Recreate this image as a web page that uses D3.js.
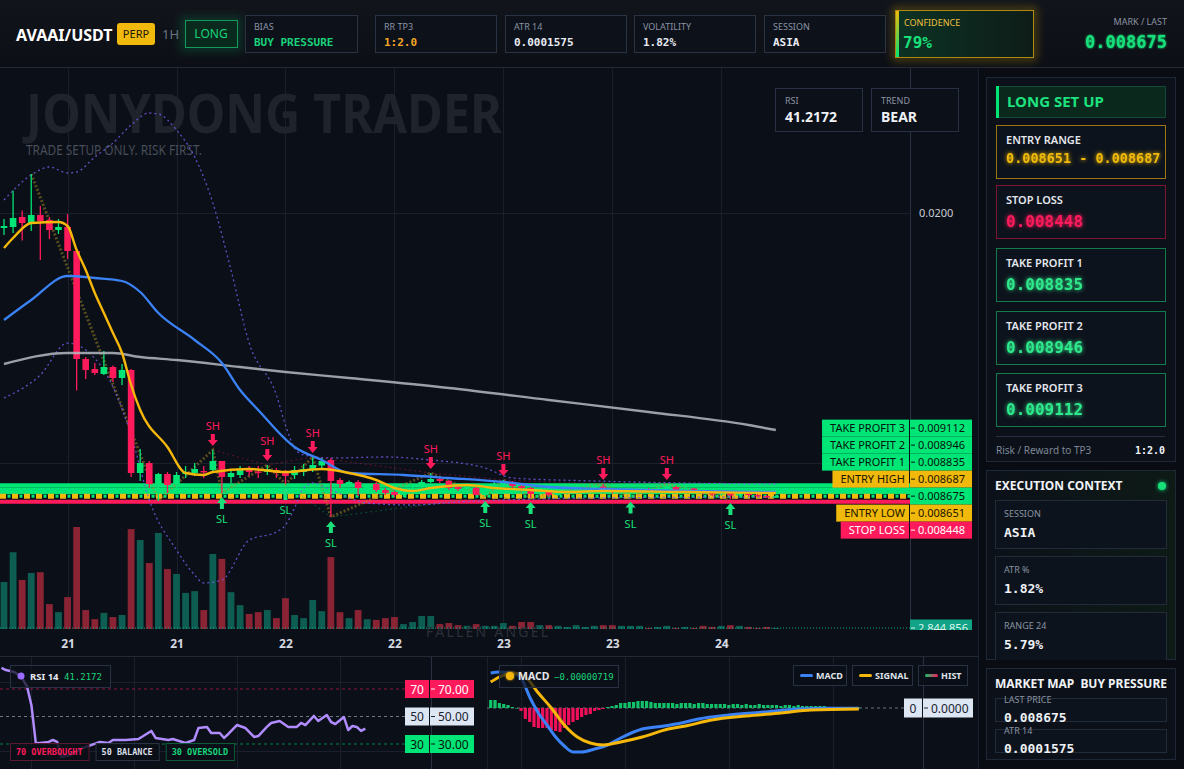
<!DOCTYPE html>
<html>
<head>
<meta charset="utf-8">
<title>AVAAI/USDT long setup</title>
<script src="https://cdn.jsdelivr.net/npm/d3@7"></script>
<style>
  html, body { margin: 0; padding: 0; background: #0b0f17; overflow: hidden; }
  svg { display: block; }
</style>
</head>
<body>
<svg id="chart" width="1184" height="769"></svg>
<script>
// ---------- data ----------
const tickIdx = [7, 19, 31, 43, 55, 67, 79];
const tickLabels = ['21', '21', '22', '22', '23', '23', '24'];
const dayIdx = [7, 31, 55, 79];
const priceTicks = [0.0100, 0.0200];

const opens = [0.0194,0.01944,0.01984,0.0196,0.01992,0.01972,0.01932,0.01944,0.01848,0.01416,
  0.01376,0.01356,0.01384,0.0134,0.01372,0.0096,0.0100,0.00916,0.00956,0.00916,
  0.00956,0.0096,0.00968,0.00972,0.01008,0.00944,0.00952,0.00972,0.00966,0.00964,
  0.00972,0.00964,0.00952,0.00964,0.00976,0.0099,0.01012,0.00932,0.00916,0.00924,
  0.009,0.00916,0.00892,0.00884,0.00872,0.00888,0.00904,0.00924,0.00936,0.00928,
  0.00904,0.00896,0.009,0.00872,0.00896,0.00916,0.00924,0.00908,0.009,0.00876,
  0.00884,0.00872,0.0088,0.00888,0.00896,0.009,0.00906,0.00896,0.00884,0.0088,
  0.00888,0.00896,0.0089,0.00898,0.00904,0.00892,0.00898,0.00888,0.0088,0.00874,
  0.0088,0.0087,0.00878,0.00872,0.00868,0.00864];
const highs = [0.01976,0.0209,0.0201,0.02156,0.02028,0.01984,0.01976,0.01996,0.01852,0.01424,
  0.014,0.01448,0.0139,0.01396,0.01376,0.01056,0.01008,0.0096,0.00964,0.00964,
  0.00988,0.01,0.00988,0.01052,0.01008,0.00976,0.00988,0.00988,0.00988,0.00992,
  0.0098,0.00972,0.00988,0.00996,0.01024,0.0102,0.0102,0.0094,0.0093,0.00932,
  0.00916,0.00924,0.009,0.0089,0.00896,0.00908,0.00932,0.0096,0.00944,0.00932,
  0.00908,0.0091,0.00904,0.009,0.00924,0.00932,0.00928,0.00912,0.00904,0.0089,
  0.00888,0.00888,0.00894,0.009,0.00908,0.00912,0.00916,0.009,0.00896,0.00892,
  0.009,0.009,0.00904,0.00916,0.00908,0.00904,0.009,0.00892,0.00886,0.00886,
  0.00884,0.00884,0.00882,0.00876,0.00872,0.0087];
const lows = [0.01912,0.0192,0.0189,0.01928,0.01812,0.01896,0.01916,0.01816,0.0129,0.01336,
  0.01352,0.01352,0.01324,0.01312,0.00944,0.00928,0.009,0.00848,0.0088,0.009,
  0.0094,0.00948,0.0094,0.0096,0.0088,0.0092,0.0094,0.00948,0.0094,0.00952,
  0.0094,0.00916,0.00936,0.00948,0.00964,0.00976,0.00784,0.009,0.0091,0.00868,
  0.00892,0.00884,0.00872,0.00864,0.00864,0.0088,0.009,0.0092,0.0092,0.00892,
  0.00888,0.0089,0.0087,0.00864,0.0089,0.0091,0.009,0.00892,0.0086,0.0087,
  0.00864,0.00866,0.00874,0.0088,0.0089,0.00894,0.0089,0.00878,0.00876,0.00862,
  0.00882,0.00884,0.00886,0.00892,0.00886,0.00886,0.00882,0.00874,0.00868,0.0087,
  0.00856,0.00866,0.00866,0.00862,0.0086,0.0086];
const closes = [0.01948,0.0198,0.0196,0.01992,0.01968,0.01932,0.01944,0.01848,0.01416,0.01372,
  0.0136,0.01384,0.0134,0.01372,0.0096,0.0100,0.00916,0.00956,0.00912,0.00952,
  0.00964,0.00976,0.00964,0.01008,0.00944,0.0096,0.00972,0.00964,0.00964,0.00976,
  0.0096,0.00948,0.00972,0.00976,0.00992,0.01008,0.00928,0.00916,0.00924,0.009,
  0.00908,0.00892,0.0088,0.00872,0.00888,0.009,0.00924,0.00936,0.00928,0.009,
  0.00896,0.00904,0.00872,0.00896,0.00916,0.00924,0.00908,0.009,0.00876,0.00884,
  0.00872,0.0088,0.00888,0.00896,0.009,0.00906,0.00896,0.00884,0.0089,0.00888,
  0.00896,0.0089,0.00898,0.00904,0.00892,0.00898,0.00888,0.0088,0.00874,0.0088,
  0.0087,0.00878,0.00872,0.00868,0.00864,0.008675];
const volumes = [134e6,219e6,140e6,160e6,162e6,71e6,48e6,91e6,291e6,54e6,
  28e6,46e6,34e6,40e6,285e6,254e6,188e6,274e6,171e6,157e6,
  103e6,108e6,54e6,214e6,200e6,105e6,68e6,43e6,48e6,54e6,
  31e6,88e6,40e6,31e6,83e6,51e6,205e6,48e6,31e6,54e6,
  28e6,26e6,31e6,34e6,14e6,20e6,37e6,37e6,14e6,17e6,
  11e6,9e6,14e6,9e6,9e6,17e6,9e6,20e6,20e6,11e6,
  11e6,9e6,6e6,11e6,6e6,9e6,11e6,11e6,9e6,9e6,
  9e6,3e6,6e6,9e6,3e6,6e6,3e6,9e6,6e6,9e6,
  11e6,9e6,6e6,3e6,6e6,2844856];

const emaFastIdx = [0,1,3,6,7,8,9,10,11,12,13,14,15,18,20,22,23,27,31,35,38,41,43,45,47,51,54,58,62,66,75,85];
const emaFastVal = [0.0186,0.0190,0.0196,0.01964,0.01948,0.01852,0.01772,0.0168,0.0160,0.0152,
  0.0144,0.01312,0.01212,0.01064,0.0096,0.00952,0.00964,0.00976,0.00964,0.00976,
  0.0096,0.00932,0.0090,0.00888,0.0090,0.00912,0.0090,0.00892,0.00884,0.00888,0.00884,0.0088];
const emaSlowIdx = [0,3,7,10,13,15,17,21,24,26,28,32,35,38,44,49,55,60,66,75,85];
const emaSlowVal = [0.01572,0.01652,0.01748,0.0174,0.01728,0.01684,0.0160,0.01492,0.0140,0.01292,
  0.01212,0.01064,0.01012,0.0096,0.00952,0.0094,0.00924,0.00904,0.00896,0.00888,0.00884];
const maLongIdx = [0,7,12,15,19,26,31,38,49,60,71,82,85];
const maLongVal = [0.01396,0.0144,0.0144,0.01424,0.01412,0.01384,0.01364,0.0134,0.0130,0.01252,0.01204,0.01152,0.01132];
const bbUpperIdx = [0,3,5,7,8,10,12,14,16,17,19,21,23,25,27,30,31,32,33,36,42,47,53,56,65,75,85];
const bbUpperVal = [0.02052,0.02152,0.02184,0.0216,0.02164,0.02224,0.0228,0.02352,0.024,0.02396,
  0.02332,0.02224,0.0204,0.01772,0.0148,0.01272,0.01152,0.0106,0.01032,0.0102,
  0.01024,0.01012,0.0098,0.0094,0.00928,0.0092,0.00916];
const bbLowerIdx = [0,4,7,9,12,14,16,19,21,22,24,27,30,31,32,33,34,36,40,45,50,55,65,85];
const bbLowerVal = [0.0126,0.01352,0.0148,0.01452,0.01304,0.01112,0.00852,0.00652,0.00552,0.0052,
  0.00532,0.00692,0.00724,0.00752,0.0082,0.009,0.0092,0.00892,0.0084,0.00832,
  0.00844,0.00852,0.0086,0.00864];

const shIdx = [23, 29, 34, 47, 55, 66, 73];
const slIdx = [24, 31, 36, 53, 58, 69, 80];
const zigIdx = [3, 17, 23, 24, 29, 31, 34, 36, 47, 53, 55, 58, 66, 69, 73, 80];
const zigType = ['H','L','H','L','H','L','H','L','H','L','H','L','H','L','H','L'];

const levelNames = ['TAKE PROFIT 3', 'TAKE PROFIT 2', 'TAKE PROFIT 1', 'ENTRY HIGH', '', 'ENTRY LOW', 'STOP LOSS'];
const levelKinds = ['tp', 'tp', 'tp', 'entry', 'last', 'entry', 'sl'];
const levelPrices = [0.009112, 0.008946, 0.008835, 0.008687, 0.008675, 0.008651, 0.008448];

const rsiIdx = [0,1,3,4,5,6,7,8,9,11,12,13,14,16,19,23,25,26,29,32,35,36,39,40,43,45,46,48,49,51,
  52,53,55,57,59,60,62,63,65,67,69,70,71,73,74,76,77,78,80,81,82,83,84,85];
const rsiVal = [85.3,83.8,82.4,80.2,77,71.5,58,31,30.7,31.5,32.9,31.5,20.5,22,27,31.5,30.7,32.9,32.9,33.6,
  39.5,34.4,32.9,33.6,30.7,32.9,41.6,42.4,38,38,34.4,37.3,43.8,41.6,35.1,35.8,42.4,45.3,46.7,42.4,
  42.4,45.3,43.8,50.4,46.7,51.1,46,44.5,49.6,40.2,43.1,42.4,39.5,41.2172];
const rsiLevels = [70, 50, 30];
const rsiLevelNames = ['OVERBOUGHT', 'BALANCE', 'OVERSOLD'];
const rsiGridTicks = [75, 25];

const macdIdx = [0,2,5,7,9,11,13,15,17,19,21,24,27,30,35,40,44,48,55,63,71,78,85];
const macdVal = [0.00105,0.00108,0.00105,0.0009,0.00033,-0.00015,-0.00051,-0.00087,-0.00114,-0.00132,
  -0.00132,-0.00123,-0.00111,-0.0009,-0.00063,-0.00054,-0.00045,-0.00033,-0.00021,-0.00012,
  -0.00003,-0.00001,-0.00000719];
const signalIdx = [0,2,5,8,11,14,17,20,23,26,30,35,41,45,51,59,67,74,85];
const signalVal = [0.00078,0.00093,0.00105,0.00093,0.00045,0,-0.00051,-0.00087,-0.00105,-0.00111,
  -0.00102,-0.00087,-0.00063,-0.00054,-0.00036,-0.00024,-0.00015,-0.00006,-0.00003];
const histVal = [0.00024,0.00024,0.00015,0.00012,0.00009,0.00003,0,-0.00009,-0.00033,-0.00042,
  -0.00057,-0.0006,-0.0006,-0.0006,-0.00066,-0.00069,-0.00072,-0.0006,-0.00051,-0.00042,
  -0.00036,-0.00027,-0.00021,-0.00018,-0.00009,-0.00006,-0.00003,0.00003,0.00006,0.00009,
  0.00015,0.00015,0.00018,0.00018,0.00021,0.00021,0.00021,0.00018,0.00015,0.00015,
  0.00015,0.00015,0.00015,0.00012,0.00015,0.00015,0.00015,0.00012,0.00015,0.00015,
  0.00012,0.00012,0.00012,0.00012,0.00012,0.00009,0.00012,0.00012,0.00009,0.00012,
  0.00009,0.00009,0.00012,0.00009,0.00009,0.00009,0.00009,0.00006,0.00009,0.00009,
  0.00006,0.00009,0.00006,0.00006,0.00006,0.00006,0.00006,0.00006,0.00003,0.00003,
  0.00003,0.00003,0.00003,0.00003,0.000015,0.00001];

const topCards = [
  { label: 'BIAS', value: 'BUY PRESSURE', color: '#19d37a', x: 245, w: 112 },
  { label: 'RR TP3', value: '1:2.0', color: '#f5a623', x: 375, w: 121 },
  { label: 'ATR 14', value: '0.0001575', color: '#e8ecf2', x: 505, w: 121 },
  { label: 'VOLATILITY', value: '1.82%', color: '#e8ecf2', x: 634, w: 121 },
  { label: 'SESSION', value: 'ASIA', color: '#e8ecf2', x: 764, w: 121 }
];
const contextLabels = ['SESSION', 'ATR %', 'RANGE 24'];
const contextValues = ['ASIA', '1.82%', '5.79%'];
const mapLabels = ['LAST PRICE', 'ATR 14'];
const mapValues = ['0.008675', '0.0001575'];

// ---------- setup ----------
const sans = '"Noto Sans", "DejaVu Sans", sans-serif';
const mono = '"DejaVu Sans Mono", monospace';
const green = '#00e676', red = '#ff1a5c', gold = '#f0b90b';
const fmt6 = d3.format('.6f');

const svg = d3.select('#chart');
const defs = svg.append('defs');

function addGlow(id, sd) {
  const f = defs.append('filter').attr('id', id)
    .attr('x', '-30%').attr('y', '-60%').attr('width', '160%').attr('height', '220%');
  f.append('feGaussianBlur').attr('stdDeviation', sd).attr('result', 'b');
  const m = f.append('feMerge');
  m.append('feMergeNode').attr('in', 'b');
  m.append('feMergeNode').attr('in', 'SourceGraphic');
}
addGlow('glow', 2);
addGlow('glowSoft', 1.2);
defs.append('filter').attr('id', 'blur').attr('x', '-20%').attr('y', '-40%').attr('width', '140%').attr('height', '180%')
  .append('feGaussianBlur').attr('stdDeviation', 4);

function lin(id, stops, vertical) {
  const g = defs.append('linearGradient').attr('id', id)
    .attr('x1', 0).attr('y1', 0).attr('x2', vertical ? 0 : 1).attr('y2', vertical ? 1 : 0);
  stops.forEach((s, k) => g.append('stop').attr('offset', k / (stops.length - 1)).attr('stop-color', s));
}
lin('topGrad', ['#11141b', '#0c0f15'], true);
lin('confGrad', ['#0c3324', '#0e1c18'], false);
lin('confBar', [gold, green], true);
lin('histGrad', ['#12c26a', red], false);
lin('ctxGrad', ['#0c1119', '#0d1a16'], false);

defs.append('clipPath').attr('id', 'clipPlot').append('rect').attr('x', 0).attr('y', 68).attr('width', 910).attr('height', 562);
defs.append('clipPath').attr('id', 'clipMain').append('rect').attr('x', 0).attr('y', 68).attr('width', 978).attr('height', 562);
defs.append('clipPath').attr('id', 'clipRsi').append('rect').attr('x', 0).attr('y', 657).attr('width', 431).attr('height', 112);
defs.append('clipPath').attr('id', 'clipMacd').append('rect').attr('x', 487).attr('y', 657).attr('width', 436).attr('height', 112);
defs.append('clipPath').attr('id', 'clipCtx').append('rect').attr('x', 986).attr('y', 470).attr('width', 190).attr('height', 190);

function txt(g, x, y, s, o = {}) {
  return g.append('text').attr('x', x).attr('y', y).text(s)
    .attr('font-size', o.size || 11)
    .attr('font-weight', o.weight || 400)
    .style('font-family', o.mono ? mono : sans)
    .attr('fill', o.fill || '#e6e9ef')
    .attr('text-anchor', o.anchor || 'start');
}
function box(g, x, y, w, h, fill, stroke) {
  return g.append('rect').attr('x', x + 0.5).attr('y', y + 0.5).attr('width', w).attr('height', h)
    .attr('fill', fill).attr('stroke', stroke || 'none');
}

// background
svg.append('rect').attr('width', 1184).attr('height', 769).attr('fill', '#0b0f17');
svg.append('rect').attr('x', 978).attr('y', 68).attr('width', 206).attr('height', 701).attr('fill', '#090c12');

// ---------- top bar ----------
const topBar = svg.append('g');
topBar.append('rect').attr('width', 1184).attr('height', 67).attr('fill', 'url(#topGrad)');
topBar.append('line').attr('x1', 0).attr('x2', 1184).attr('y1', 67.5).attr('y2', 67.5).attr('stroke', '#222a36');
txt(topBar, 16, 41, 'AVAAI/USDT', { size: 16, weight: 700, fill: '#ffffff' });
topBar.append('rect').attr('x', 117).attr('y', 23).attr('width', 38).attr('height', 22).attr('rx', 3).attr('fill', gold);
txt(topBar, 136, 38, 'PERP', { size: 11, fill: '#1a1608', anchor: 'middle' });
txt(topBar, 162, 39, '1H', { size: 13, fill: '#6b7383' });
topBar.append('rect').attr('x', 180).attr('y', 16).attr('width', 62).attr('height', 36)
  .attr('fill', 'rgba(0,200,110,0.18)').attr('filter', 'url(#blur)');
box(topBar, 185, 20, 52, 27, '#0a2a1e', '#139a5d');
txt(topBar, 211, 38, 'LONG', { size: 12, fill: '#19d37a', anchor: 'middle' });

topCards.forEach(c => {
  box(topBar, c.x, 15, c.w, 37, '#0c111a', '#2a3342');
  txt(topBar, c.x + 9, 30, c.label, { size: 9, fill: '#8b94a5' });
  txt(topBar, c.x + 9, 46, c.value, { size: 11, weight: 700, mono: true, fill: c.color });
});

topBar.append('rect').attr('x', 895).attr('y', 10).attr('width', 139).attr('height', 48)
  .attr('fill', 'none').attr('stroke', 'rgba(240,185,11,0.45)').attr('stroke-width', 4).attr('filter', 'url(#blur)');
box(topBar, 895, 10, 138, 47, 'url(#confGrad)', '#b08a10');
topBar.append('rect').attr('x', 896).attr('y', 11).attr('width', 3).attr('height', 46).attr('fill', 'url(#confBar)');
txt(topBar, 904, 26, 'CONFIDENCE', { size: 9, fill: '#f0c040' });
txt(topBar, 903, 48, '79%', { size: 16, weight: 700, mono: true, fill: '#19e07a' });
txt(topBar, 1167, 25, 'MARK / LAST', { size: 9, fill: '#8b94a5', anchor: 'end' });
txt(topBar, 1167, 48, fmt6(closes[closes.length - 1]), { size: 17, weight: 700, mono: true, fill: '#19e07a', anchor: 'end' })
  .attr('filter', 'url(#glowSoft)');

// ---------- main price pane ----------
const n = opens.length;
const x = d3.scaleLinear().domain([0, n - 1]).range([4, 4 + (n - 1) * 9.08]);
const y = d3.scaleLinear().domain([0.0100, 0.0200]).range([463, 213]);
const yVol = d3.scaleLinear().domain([0, d3.max(volumes)]).range([629, 527]);

const main = svg.append('g');
main.append('g').selectAll('line').data(tickIdx).join('line')
  .attr('x1', d => Math.round(x(d)) + 0.5).attr('x2', d => Math.round(x(d)) + 0.5)
  .attr('y1', 68).attr('y2', 630).attr('stroke', '#1a202b');
main.append('g').selectAll('line').data(priceTicks).join('line')
  .attr('x1', 0).attr('x2', 910)
  .attr('y1', d => Math.round(y(d)) + 0.5).attr('y2', d => Math.round(y(d)) + 0.5).attr('stroke', '#1a202b');

txt(main, 26, 133, 'JONYDONG TRADER', { size: 53, weight: 700, fill: '#1f232c' })
  .attr('textLength', 476).attr('lengthAdjust', 'spacingAndGlyphs');
txt(main, 26, 155, 'TRADE SETUP ONLY. RISK FIRST.', { size: 14, fill: '#474d59' })
  .attr('textLength', 176).attr('lengthAdjust', 'spacingAndGlyphs');

const plot = main.append('g').attr('clip-path', 'url(#clipPlot)');
const candles = d3.range(n).map(i => ({ i, o: opens[i], h: highs[i], l: lows[i], c: closes[i], v: volumes[i] }));

// volume
plot.append('g').selectAll('rect').data(candles).join('rect')
  .attr('x', d => x(d.i) - 3.4).attr('width', 6.8)
  .attr('y', d => yVol(d.v)).attr('height', d => Math.max(0.6, 629 - yVol(d.v)))
  .attr('fill', d => d.c >= d.o ? '#0e5d52' : '#8a2435');
plot.append('line').attr('x1', 0).attr('x2', 910)
  .attr('y1', yVol(volumes[n - 1])).attr('y2', yVol(volumes[n - 1]))
  .attr('stroke', '#13a88a').attr('stroke-dasharray', '1,2');

// trade levels
const levels = levelPrices.map((p, k) => ({ p, name: levelNames[k], kind: levelKinds[k], y: y(p) }));
const levelStyle = {
  tp: { stroke: green, width: 4, dash: null, bg: green, fg: '#07130d' },
  entry: { stroke: gold, width: 4, dash: '6,6', bg: gold, fg: '#1b1400' },
  last: { stroke: green, width: 3, dash: '0,7.5,3,1.5', bg: green, fg: '#07130d' },
  sl: { stroke: red, width: 4, dash: null, bg: red, fg: '#ffffff' }
};
['tp', 'entry', 'last', 'sl'].forEach(kind => {
  levels.filter(d => d.kind === kind).forEach(d => {
    const s = levelStyle[kind];
    plot.append('line').attr('x1', 0).attr('x2', 910).attr('y1', d.y).attr('y2', d.y)
      .attr('stroke', s.stroke).attr('stroke-width', s.width).attr('stroke-dasharray', s.dash);
  });
});

// swing structure
const zig = zigIdx.map((k, j) => [k, zigType[j] === 'H' ? highs[k] : lows[k]]);
plot.append('path').datum(zig)
  .attr('d', d3.line().x(d => x(d[0])).y(d => y(d[1])))
  .attr('fill', 'none').attr('stroke', 'rgba(165,140,40,0.5)').attr('stroke-width', 3).attr('stroke-dasharray', '2,2');
plot.append('path').datum(shIdx.map(k => [k, highs[k]]))
  .attr('d', d3.line().x(d => x(d[0])).y(d => y(d[1])))
  .attr('fill', 'none').attr('stroke', 'rgba(255,26,92,0.3)').attr('stroke-width', 1.2).attr('stroke-dasharray', '2,3');
plot.append('path').datum(slIdx.map(k => [k, lows[k]]))
  .attr('d', d3.line().x(d => x(d[0])).y(d => y(d[1])))
  .attr('fill', 'none').attr('stroke', 'rgba(0,200,120,0.3)').attr('stroke-width', 1.2).attr('stroke-dasharray', '2,3');

// bands
const curveLine = d3.line().x(d => x(d[0])).y(d => y(d[1])).curve(d3.curveMonotoneX);
[[bbUpperIdx, bbUpperVal], [bbLowerIdx, bbLowerVal]].forEach(([ix, vs]) => {
  plot.append('path').datum(d3.zip(ix, vs)).attr('d', curveLine)
    .attr('fill', 'none').attr('stroke', 'rgba(118,88,230,0.85)').attr('stroke-width', 1.3).attr('stroke-dasharray', '2,3');
});

// candles
const cg = plot.append('g');
cg.selectAll('line').data(candles).join('line')
  .attr('x1', d => x(d.i)).attr('x2', d => x(d.i))
  .attr('y1', d => y(d.h)).attr('y2', d => y(d.l))
  .attr('stroke', d => d.c >= d.o ? green : red).attr('stroke-width', 1.3);
cg.selectAll('rect').data(candles).join('rect')
  .attr('x', d => x(d.i) - 3.3).attr('width', 6.6)
  .attr('y', d => y(Math.max(d.o, d.c)))
  .attr('height', d => Math.max(1.4, Math.abs(y(d.o) - y(d.c))))
  .attr('fill', d => d.c >= d.o ? green : red);

// moving averages
plot.append('path').datum(d3.zip(maLongIdx, maLongVal)).attr('d', curveLine)
  .attr('fill', 'none').attr('stroke', '#b4b8c2').attr('stroke-width', 2.4).attr('opacity', 0.85);
plot.append('path').datum(d3.zip(emaSlowIdx, emaSlowVal)).attr('d', curveLine)
  .attr('fill', 'none').attr('stroke', '#3b82f6').attr('stroke-width', 2.3);
plot.append('path').datum(d3.zip(emaFastIdx, emaFastVal)).attr('d', curveLine)
  .attr('fill', 'none').attr('stroke', '#f5b70a').attr('stroke-width', 2.4);

// swing markers
const downArrow = 'M0,0 L-5,-6 L-2,-6 L-2,-12 L2,-12 L2,-6 L5,-6 Z';
const upArrow = 'M0,0 L-5,6 L-2,6 L-2,12 L2,12 L2,6 L5,6 Z';
shIdx.forEach(k => {
  const tip = y(highs[k]) - 4;
  plot.append('path').attr('d', downArrow).attr('transform', `translate(${x(k)},${tip})`).attr('fill', red);
  txt(plot, x(k), tip - 16, 'SH', { size: 11, fill: red, anchor: 'middle' });
});
slIdx.forEach(k => {
  const tip = y(lows[k]) + 4;
  plot.append('path').attr('d', upArrow).attr('transform', `translate(${x(k)},${tip})`).attr('fill', '#19e07a');
  txt(plot, x(k), tip + 26, 'SL', { size: 11, fill: '#19e07a', anchor: 'middle' });
});

// level labels stacked around the last price
const anchor = levels.findIndex(d => d.kind === 'last');
const lh = 17;
levels[anchor].ly = levels[anchor].y;
for (let k = anchor - 1; k >= 0; k--) levels[k].ly = Math.min(levels[k].y, levels[k + 1].ly - lh);
for (let k = anchor + 1; k < levels.length; k++) levels[k].ly = Math.max(levels[k].y, levels[k - 1].ly + lh);

// price axis (ticks hidden where a level label sits, as the chart does)
main.append('line').attr('x1', 910.5).attr('x2', 910.5).attr('y1', 68).attr('y2', 630).attr('stroke', '#2a3140');
const pAxis = main.append('g').attr('transform', 'translate(910,0)')
  .call(d3.axisRight(y).tickValues(priceTicks.filter(t => !levels.some(l => Math.abs(y(t) - l.ly) < 12)))
    .tickFormat(d3.format('.4f')).tickSize(0).tickPadding(9));
pAxis.select('.domain').remove();
pAxis.selectAll('text').attr('font-size', 11).attr('fill', '#c8cdd6').style('font-family', sans);

// volume value label
const volLab = main.append('g').attr('clip-path', 'url(#clipMain)');
const vy = yVol(volumes[n - 1]);
volLab.append('rect').attr('x', 910).attr('y', vy - 8.5).attr('width', 62).attr('height', 17).attr('fill', '#12a386');
volLab.append('line').attr('x1', 911).attr('x2', 915).attr('y1', vy).attr('y2', vy).attr('stroke', '#dff7ef');
txt(volLab, 918, vy + 4, d3.format(',')(volumes[n - 1]), { size: 11, fill: '#dff7ef' });

const labG = main.append('g');
levels.forEach(d => {
  const s = levelStyle[d.kind];
  if (d.name) {
    const g = labG.append('g');
    const r = g.append('rect').attr('y', d.ly - 8.5).attr('height', 17).attr('fill', s.bg);
    const t = txt(g, 905, d.ly + 4, d.name, { size: 11, fill: s.fg, anchor: 'end' });
    const w = t.node().getComputedTextLength();
    r.attr('x', 905 - w - 8).attr('width', w + 12);
  }
  labG.append('rect').attr('x', 910).attr('y', d.ly - 8.5).attr('width', 62).attr('height', 17).attr('fill', s.bg);
  labG.append('line').attr('x1', 911).attr('x2', 915).attr('y1', d.ly).attr('y2', d.ly).attr('stroke', s.fg);
  txt(labG, 918, d.ly + 4, fmt6(d.p), { size: 11, fill: s.fg });
});

// RSI / TREND cards
[['RSI', d3.format('.4f')(rsiVal[rsiVal.length - 1]), 775], ['TREND', 'BEAR', 871]].forEach(([l, v, bx]) => {
  box(main, bx, 88, 87, 43, '#0b1019', '#283141');
  txt(main, bx + 10, 104, l, { size: 9, fill: '#8b94a5' });
  txt(main, bx + 10, 122, v, { size: 14, weight: 700, fill: '#eef1f5' });
});

// time axis
txt(main, 426, 637, 'FALLEN ANGEL', { size: 14, fill: '#2b303a' })
  .attr('textLength', 122).attr('lengthAdjust', 'spacing');
const tAxis = main.append('g').attr('transform', 'translate(0,639)')
  .call(d3.axisBottom(x).tickValues(tickIdx).tickFormat((d, k) => tickLabels[k]).tickSize(0).tickPadding(0));
tAxis.select('.domain').remove();
tAxis.selectAll('text').attr('font-size', 12).attr('font-weight', 700).attr('fill', '#d6dae2').style('font-family', sans);
main.append('line').attr('x1', 0).attr('x2', 978).attr('y1', 656.5).attr('y2', 656.5).attr('stroke', '#232a36');
main.append('line').attr('x1', 978.5).attr('x2', 978.5).attr('y1', 68).attr('y2', 769).attr('stroke', '#1a202b');

// ---------- RSI pane ----------
const xr = d3.scaleLinear().domain([0, n - 1]).range([1.5, 365.3]);
const yr = d3.scaleLinear().domain([30, 70]).range([744, 689]);
const rsiG = svg.append('g');
rsiG.append('g').selectAll('line').data(dayIdx).join('line')
  .attr('x1', d => Math.round(xr(d)) + 0.5).attr('x2', d => Math.round(xr(d)) + 0.5)
  .attr('y1', 657).attr('y2', 769).attr('stroke', '#1a202b');
rsiG.append('g').selectAll('line').data(rsiGridTicks).join('line')
  .attr('x1', 0).attr('x2', 431).attr('y1', d => Math.round(yr(d)) + 0.5).attr('y2', d => Math.round(yr(d)) + 0.5)
  .attr('stroke', '#1a202b');
rsiG.append('line').attr('x1', 431.5).attr('x2', 431.5).attr('y1', 657).attr('y2', 769).attr('stroke', '#2a3140');
const rsiColors = [red, '#c9d2de', green];
const rsiBoxBg = [red, '#dde6f3', green];
const rsiBoxFg = ['#ffffff', '#1b2230', '#07130d'];
const rsiClip = rsiG.append('g').attr('clip-path', 'url(#clipRsi)');
rsiLevels.forEach((v, k) => {
  rsiClip.append('line').attr('x1', 0).attr('x2', 431).attr('y1', yr(v)).attr('y2', yr(v))
    .attr('stroke', rsiColors[k]).attr('stroke-opacity', 0.55).attr('stroke-dasharray', '3,3');
});
rsiClip.append('path').datum(d3.zip(rsiIdx, rsiVal))
  .attr('d', d3.line().x(d => xr(d[0])).y(d => yr(d[1])))
  .attr('fill', 'none').attr('stroke', '#b08cff').attr('stroke-width', 2.5).attr('stroke-linejoin', 'round');
box(rsiG, 10, 665, 100, 22, 'rgba(11,15,23,0.72)', '#283141');
rsiG.append('circle').attr('cx', 21).attr('cy', 676).attr('r', 3.5).attr('fill', '#9b6bff');
txt(rsiG, 30, 680, 'RSI 14', { size: 9.5, weight: 700, fill: '#e6e9ef' });
txt(rsiG, 64, 680, d3.format('.4f')(rsiVal[rsiVal.length - 1]), { size: 9, mono: true, fill: '#19d37a' });
let chipX = 10;
rsiLevels.forEach((v, k) => {
  const g = rsiG.append('g');
  const r = box(g, chipX, 743, 10, 17, 'rgba(11,15,23,0.85)', ['#5c1830', '#2a3342', '#0f5a38'][k]);
  const t = txt(g, chipX + 6, 755, `${v} ${rsiLevelNames[k]}`, { size: 8.5, weight: 700, mono: true, fill: [red, '#d8dde6', '#19d37a'][k] });
  const w = t.node().getComputedTextLength();
  r.attr('width', w + 12);
  chipX += w + 19;
});
rsiLevels.forEach((v, k) => {
  const cy = yr(v);
  rsiG.append('rect').attr('x', 405).attr('y', cy - 9).attr('width', 24).attr('height', 18).attr('fill', rsiBoxBg[k]);
  txt(rsiG, 417, cy + 4.5, String(v), { size: 12, fill: rsiBoxFg[k], anchor: 'middle' });
  rsiG.append('rect').attr('x', 430).attr('y', cy - 9).attr('width', 44).attr('height', 18).attr('fill', rsiBoxBg[k]);
  rsiG.append('line').attr('x1', 431).attr('x2', 435).attr('y1', cy).attr('y2', cy).attr('stroke', rsiBoxFg[k]);
  txt(rsiG, 438, cy + 4.5, d3.format('.2f')(v), { size: 12, fill: rsiBoxFg[k] });
});

// ---------- MACD pane ----------
const xm = d3.scaleLinear().domain([0, n - 1]).range([490.7, 858.8]);
const ym = d3.scaleLinear().domain([0, -0.00135]).range([708, 753]);
const macdG = svg.append('g');
macdG.append('g').selectAll('line').data(dayIdx).join('line')
  .attr('x1', d => Math.round(xm(d)) + 0.5).attr('x2', d => Math.round(xm(d)) + 0.5)
  .attr('y1', 657).attr('y2', 769).attr('stroke', '#1a202b');
macdG.append('line').attr('x1', 487.5).attr('x2', 487.5).attr('y1', 657).attr('y2', 769).attr('stroke', '#1a202b');
macdG.append('line').attr('x1', 923.5).attr('x2', 923.5).attr('y1', 657).attr('y2', 769).attr('stroke', '#2a3140');
const macdClip = macdG.append('g').attr('clip-path', 'url(#clipMacd)');
macdClip.append('line').attr('x1', 487).attr('x2', 923).attr('y1', ym(0)).attr('y2', ym(0))
  .attr('stroke', '#6a7282').attr('stroke-dasharray', '3,3');
macdClip.append('g').selectAll('rect').data(histVal).join('rect')
  .attr('x', (d, i) => xm(i) - 1.6).attr('width', 3.2)
  .attr('y', d => Math.min(ym(d), ym(0)))
  .attr('height', d => Math.max(0.6, Math.abs(ym(d) - ym(0))))
  .attr('fill', d => d >= 0 ? '#12c26a' : '#f0105a');
const mLine = d3.line().x(d => xm(d[0])).y(d => ym(d[1])).curve(d3.curveMonotoneX);
macdClip.append('path').datum(d3.zip(macdIdx, macdVal)).attr('d', mLine)
  .attr('fill', 'none').attr('stroke', '#3b82f6').attr('stroke-width', 3);
macdClip.append('path').datum(d3.zip(signalIdx, signalVal)).attr('d', mLine)
  .attr('fill', 'none').attr('stroke', '#f5b70a').attr('stroke-width', 3);
box(macdG, 499, 665, 119, 22, 'rgba(11,15,23,0.72)', '#283141');
macdG.append('circle').attr('cx', 510).attr('cy', 676).attr('r', 4).attr('fill', '#f5b70a').attr('filter', 'url(#glowSoft)');
txt(macdG, 518, 680, 'MACD', { size: 10.5, weight: 700, fill: '#e6e9ef' });
txt(macdG, 554, 680, d3.format('.8f')(macdVal[macdVal.length - 1]), { size: 9, mono: true, fill: '#19d37a' });
[['MACD', 793, 53, '#3b82f6'], ['SIGNAL', 852, 60, '#f5b70a'], ['HIST', 918, 49, 'url(#histGrad)']].forEach(([l, bx, bw, c]) => {
  box(macdG, bx, 665, bw, 20, 'rgba(11,15,23,0.85)', '#283141');
  macdG.append('rect').attr('x', bx + 7).attr('y', 674).attr('width', 13).attr('height', 3).attr('rx', 1.5).attr('fill', c);
  txt(macdG, bx + 23, 679, l, { size: 9, weight: 700, fill: '#dfe3ea' });
});
macdG.append('rect').attr('x', 904).attr('y', ym(0) - 9.5).attr('width', 18).attr('height', 19).attr('fill', '#dde6f3');
txt(macdG, 913, ym(0) + 4.5, '0', { size: 12, fill: '#1b2230', anchor: 'middle' });
macdG.append('rect').attr('x', 923).attr('y', ym(0) - 9.5).attr('width', 50).attr('height', 19).attr('fill', '#dde6f3');
macdG.append('line').attr('x1', 924).attr('x2', 928).attr('y1', ym(0)).attr('y2', ym(0)).attr('stroke', '#1b2230');
txt(macdG, 931, ym(0) + 4.5, d3.format('.4f')(0), { size: 12, fill: '#1b2230' });

// ---------- right panel ----------
const rp = svg.append('g');
box(rp, 986, 77, 189, 384, '#0c1119', '#1f2836');
box(rp, 996, 86, 169, 31, '#0a281c', '#134a35');
rp.append('rect').attr('x', 996).attr('y', 86).attr('width', 3).attr('height', 32).attr('fill', green);
txt(rp, 1007, 107, 'LONG SET UP', { size: 15, weight: 700, fill: '#1ee27f' });

const setupCards = [
  { label: 'ENTRY RANGE', value: fmt6(levelPrices[5]) + ' - ' + fmt6(levelPrices[3]), y: 125, stroke: '#9c7612', color: gold, size: 13.5, dy: 38 },
  { label: 'STOP LOSS', value: fmt6(levelPrices[6]), y: 185, stroke: '#7d1633', color: red, size: 16, dy: 42 },
  { label: 'TAKE PROFIT 1', value: fmt6(levelPrices[2]), y: 248, stroke: '#137a4b', color: '#2ee88c', size: 16, dy: 42 },
  { label: 'TAKE PROFIT 2', value: fmt6(levelPrices[1]), y: 311, stroke: '#137a4b', color: '#2ee88c', size: 16, dy: 42 },
  { label: 'TAKE PROFIT 3', value: fmt6(levelPrices[0]), y: 373, stroke: '#137a4b', color: '#2ee88c', size: 16, dy: 42 }
];
setupCards.forEach(c => {
  box(rp, 996, c.y, 169, 53, '#0d131c', c.stroke);
  txt(rp, 1006, c.y + 19, c.label, { size: 11, weight: 600, fill: '#e3e7ee' });
  txt(rp, 1006, c.y + c.dy, c.value, { size: c.size, weight: 700, mono: true, fill: c.color }).attr('filter', 'url(#glow)');
});
rp.append('line').attr('x1', 996).attr('x2', 1165).attr('y1', 436.5).attr('y2', 436.5).attr('stroke', '#273040');
txt(rp, 996, 454, 'Risk / Reward to TP3', { size: 10, fill: '#7d8696' });
txt(rp, 1165, 454, '1:2.0', { size: 10, weight: 700, mono: true, fill: '#eef1f5', anchor: 'end' });

const ctx = rp.append('g').attr('clip-path', 'url(#clipCtx)');
box(ctx, 986, 470, 189, 189, 'url(#ctxGrad)', '#1f2836');
txt(ctx, 995, 490, 'EXECUTION CONTEXT', { size: 12, weight: 700, fill: '#f1f3f7' });
ctx.append('circle').attr('cx', 1162).attr('cy', 486).attr('r', 4).attr('fill', '#19e07a').attr('filter', 'url(#glow)');
contextLabels.forEach((l, k) => {
  const cy = 500 + k * 56;
  box(ctx, 995, cy, 171, 48, '#0d131c', '#222b38');
  txt(ctx, 1004, cy + 17, l, { size: 9, fill: '#8a93a3' });
  txt(ctx, 1004, cy + 37, contextValues[k], { size: 13, weight: 700, mono: true, fill: '#eef1f5' });
});

box(rp, 986, 668, 189, 91, '#0c1119', '#1f2836');
txt(rp, 995, 688, 'MARKET MAP', { size: 12, weight: 700, fill: '#f1f3f7' });
txt(rp, 1167, 688, 'BUY PRESSURE', { size: 12, weight: 700, fill: '#f1f3f7', anchor: 'end' });
mapLabels.forEach((l, k) => {
  const cy = 698 + k * 31;
  box(rp, 995, cy, 171, 23, '#0d131c', '#222b38');
  txt(rp, 1004, cy + 5, l, { size: 9, fill: '#8a93a3' });
  txt(rp, 1004, cy + 24, mapValues[k], { size: 13, weight: 700, mono: true, fill: '#eef1f5' });
});
</script>
</body>
</html>
